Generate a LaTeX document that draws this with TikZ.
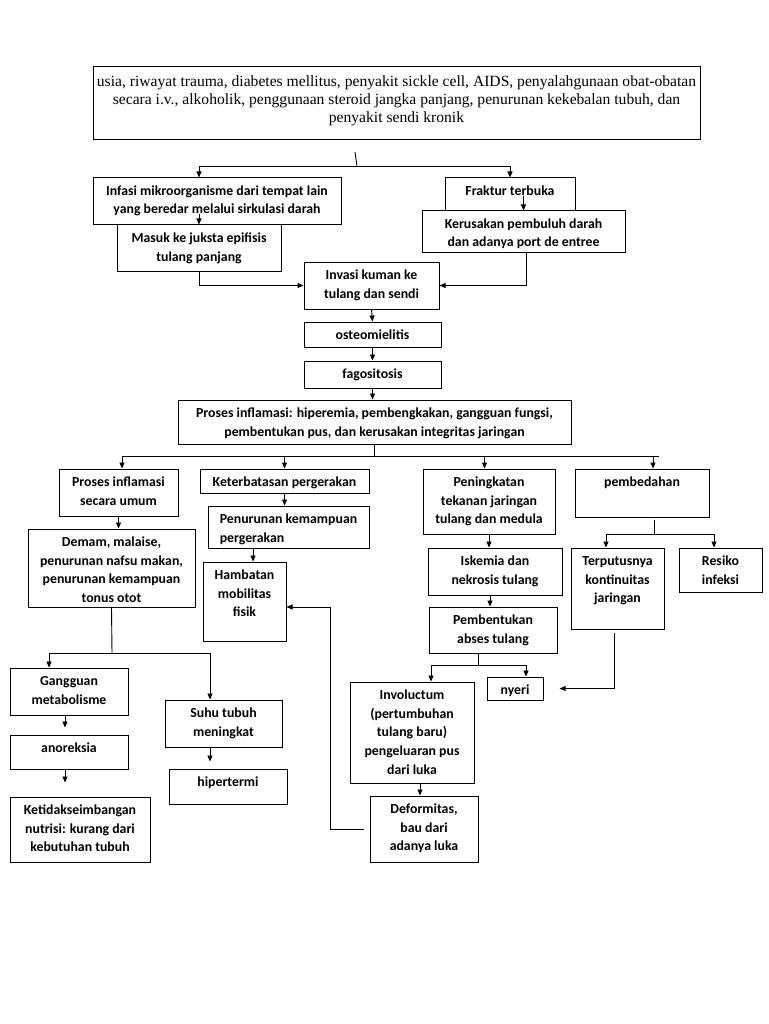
\documentclass[tikz,border=0pt]{standalone}
\usepackage{fontspec}
\setmainfont{Carlito}
\newfontfamily\notefont{Liberation Serif}
\usetikzlibrary{arrows.meta}

\begin{document}
\begin{tikzpicture}[x=1pt,y=-1pt,
    box/.style={draw,line width=1pt,inner sep=0pt},
    lbl/.style={anchor=north,align=center,inner sep=0pt,yshift=-4.5pt,
      font=\fontsize{13.8}{18.8}\selectfont\bfseries},
    topfont/.style={font=\notefont\fontsize{15.6}{18.3}\selectfont,yshift=-2pt},
    arr/.style={line width=0.9pt,-{Triangle[length=6pt,width=5pt]}},
    ln/.style={line width=0.9pt}]

\def\bx#1[#2](#3,#4)(#5,#6)#7{%
  \node[box,minimum width={#5-#3},minimum height={#6-#4}] (#1) at ({(#3+#5)/2},{(#4+#6)/2}) {};
  \node[lbl,#2] at (#1.north) {\rule{0pt}{13pt}#7};}

\useasboundingbox[fill=white] (0,0) rectangle (768,1024);

% sebab dan jalur masuk
\bx{top}[topfont](93,67)(700,140){usia, riwayat trauma, diabetes mellitus, penyakit sickle cell, AIDS, penyalahgunaan obat-obatan\\secara i.v., alkoholik, penggunaan steroid jangka panjang, penurunan kekebalan tubuh, dan\\penyakit sendi kronik}
\bx{infasi}[](93,178)(341,225){Infasi mikroorganisme dari tempat lain\\yang beredar melalui sirkulasi darah}
\bx{masuk}[](117,225)(281,271){Masuk ke juksta epifisis\\tulang panjang}
\bx{fraktur}[](445,178)(575,211){Fraktur terbuka}
\bx{kerusakan}[](422,211)(625,252){Kerusakan pembuluh darah\\dan adanya port de entree}
\bx{invasi}[](304,262)(439,309){Invasi kuman ke\\tulang dan sendi}
\bx{osteo}[](304,322)(441,347){osteomielitis}
\bx{fago}[](304,361)(441,388){fagositosis}
\bx{proses}[](178,400)(571,444){Proses inflamasi: hiperemia, pembengkakan, gangguan fungsi,\\pembentukan pus, dan kerusakan integritas jaringan}

% cabang
\bx{umum}[](59,469)(178,516){Proses inflamasi\\secara umum}
\bx{keterbatasan}[](200,469)(369,493){Keterbatasan pergerakan}
\bx{penurunan}[align=left](208,506)(369,548){Penurunan kemampuan\\pergerakan}
\bx{hambatan}[](203,562)(286,641){Hambatan\\mobilitas\\fisik}
\bx{peningkatan}[](423,469)(555,534){Peningkatan\\tekanan jaringan\\tulang dan medula}
\bx{pembedahan}[](575,469)(709,517){pembedahan}
\bx{iskemia}[](428,548)(562,595){Iskemia dan\\nekrosis tulang}
\bx{pembentukan}[](429,607)(557,653){Pembentukan\\abses tulang}
\bx{terputus}[](571,548)(664,629){Terputusnya\\kontinuitas\\jaringan}
\bx{resiko}[](679,548)(762,592){Resiko\\infeksi}
\bx{demam}[](28,529)(195,607){Demam, malaise,\\penurunan nafsu makan,\\penurunan kemampuan\\tonus otot}
\bx{gangguan}[](10,668)(128,715){Gangguan\\metabolisme}
\bx{anoreksia}[](10,735)(128,769){anoreksia}
\bx{ketidak}[](10,797)(150,862){Ketidakseimbangan\\nutrisi: kurang dari\\kebutuhan tubuh}
\bx{suhu}[](165,700)(282,747){Suhu tubuh\\meningkat}
\bx{hipertermi}[](169,769)(287,804){hipertermi}
\bx{involuctum}[](350,682)(474,783){Involuctum\\(pertumbuhan\\tulang baru)\\pengeluaran pus\\dari luka}
\bx{nyeri}[](487,677)(543,700){nyeri}
\bx{deformitas}[](370,796)(478,862){Deformitas,\\bau dari\\adanya luka}

% garis atas
\coordinate (t1) at (355,152);
\coordinate (t2) at (357,166);
\draw[ln] (t1) -- (t2);
\draw[arr] (t2) -| (masuk.north |- infasi.north);
\draw[arr] (t2) -| (fraktur.north);
\draw[arr] ([yshift=10pt]masuk.north) -- (masuk.north);
\draw[arr] ([yshift=14pt]kerusakan.north) -- (kerusakan.north);
\draw[arr] (masuk.south) |- (invasi.west);
\draw[arr] ([xshift=3pt]kerusakan.south) |- (invasi.east);
\draw[arr] (invasi.south) -- (osteo.north);
\draw[arr] (osteo.south) -- (fago.north);
\draw[arr] (fago.south) -- (fago.south |- proses.north);

% bus inflamasi
\coordinate (busL) at (122,456);
\coordinate (busR) at (659,456);
\draw[ln] (proses.south) -- (proses.south |- busL);
\draw[ln] (busL) -- (busR);
\draw[arr] (busL) -- (busL |- umum.north);
\draw[arr] (keterbatasan.north |- busL) -- (keterbatasan.north);
\draw[arr] ([xshift=-4.5pt]peningkatan.north |- busL) -- ([xshift=-4.5pt]peningkatan.north);
\draw[arr] ([xshift=11pt]pembedahan.north |- busL) -- ([xshift=11pt]pembedahan.north);

% kiri
\draw[arr] (umum.south) -- (umum.south |- demam.north);
\draw[arr] (keterbatasan.south) -- (keterbatasan.south |- penurunan.north);
\draw[arr] ([xshift=8.5pt]hambatan.north |- penurunan.south) -- ([xshift=8.5pt]hambatan.north);
\coordinate (dm) at (112,653);
\draw[ln] (demam.south) -- (dm);
\draw[arr] (dm) -| ([xshift=-20pt]gangguan.north);
\draw[arr] (dm) -| ([xshift=-13.5pt]suhu.north);
\draw[arr,shorten >=7pt] ([xshift=-4pt]gangguan.south) -- ([xshift=-4pt]anoreksia.north);
\draw[arr,shorten >=14pt] ([xshift=-4pt]anoreksia.south) -- ([xshift=-4pt]anoreksia.south |- ketidak.north);
\draw[arr,shorten >=7pt] ([xshift=-13.5pt]suhu.south) -- ([xshift=-13.5pt]suhu.south |- hipertermi.north);

% kanan
\draw[arr] (peningkatan.south) -- (peningkatan.south |- iskemia.north);
\draw[arr] ([xshift=-5pt]iskemia.south) -- ([xshift=-5pt]iskemia.south |- pembentukan.north);
\coordinate (pb) at (654,534);
\draw[ln,shorten <=2pt] (pembedahan.south -| pb) -- (pb);
\draw[ln] (606,534) -- (714,534);
\draw[arr] (606,534) -- (606,534 |- terputus.north);
\draw[arr] (714,534) -- (714,534 |- resiko.north);
\coordinate (ab) at (478,665);
\draw[ln] (pembentukan.south -| ab) -- (ab);
\draw[arr] (ab) -| ([xshift=19pt]involuctum.north);
\draw[arr] (ab) -| ([xshift=11pt]nyeri.north);
\draw[arr] ([xshift=8pt]involuctum.south) -- ([xshift=8pt]involuctum.south |- deformitas.north);
\draw[arr,shorten <=3pt,shorten >=16pt] ([xshift=-3pt]terputus.south) |- (nyeri.east);
\coordinate (ret) at (330,607);
\draw[arr,shorten <=6pt] (deformitas.west) -| (ret) -- (ret -| hambatan.east);

\end{tikzpicture}
\end{document}
